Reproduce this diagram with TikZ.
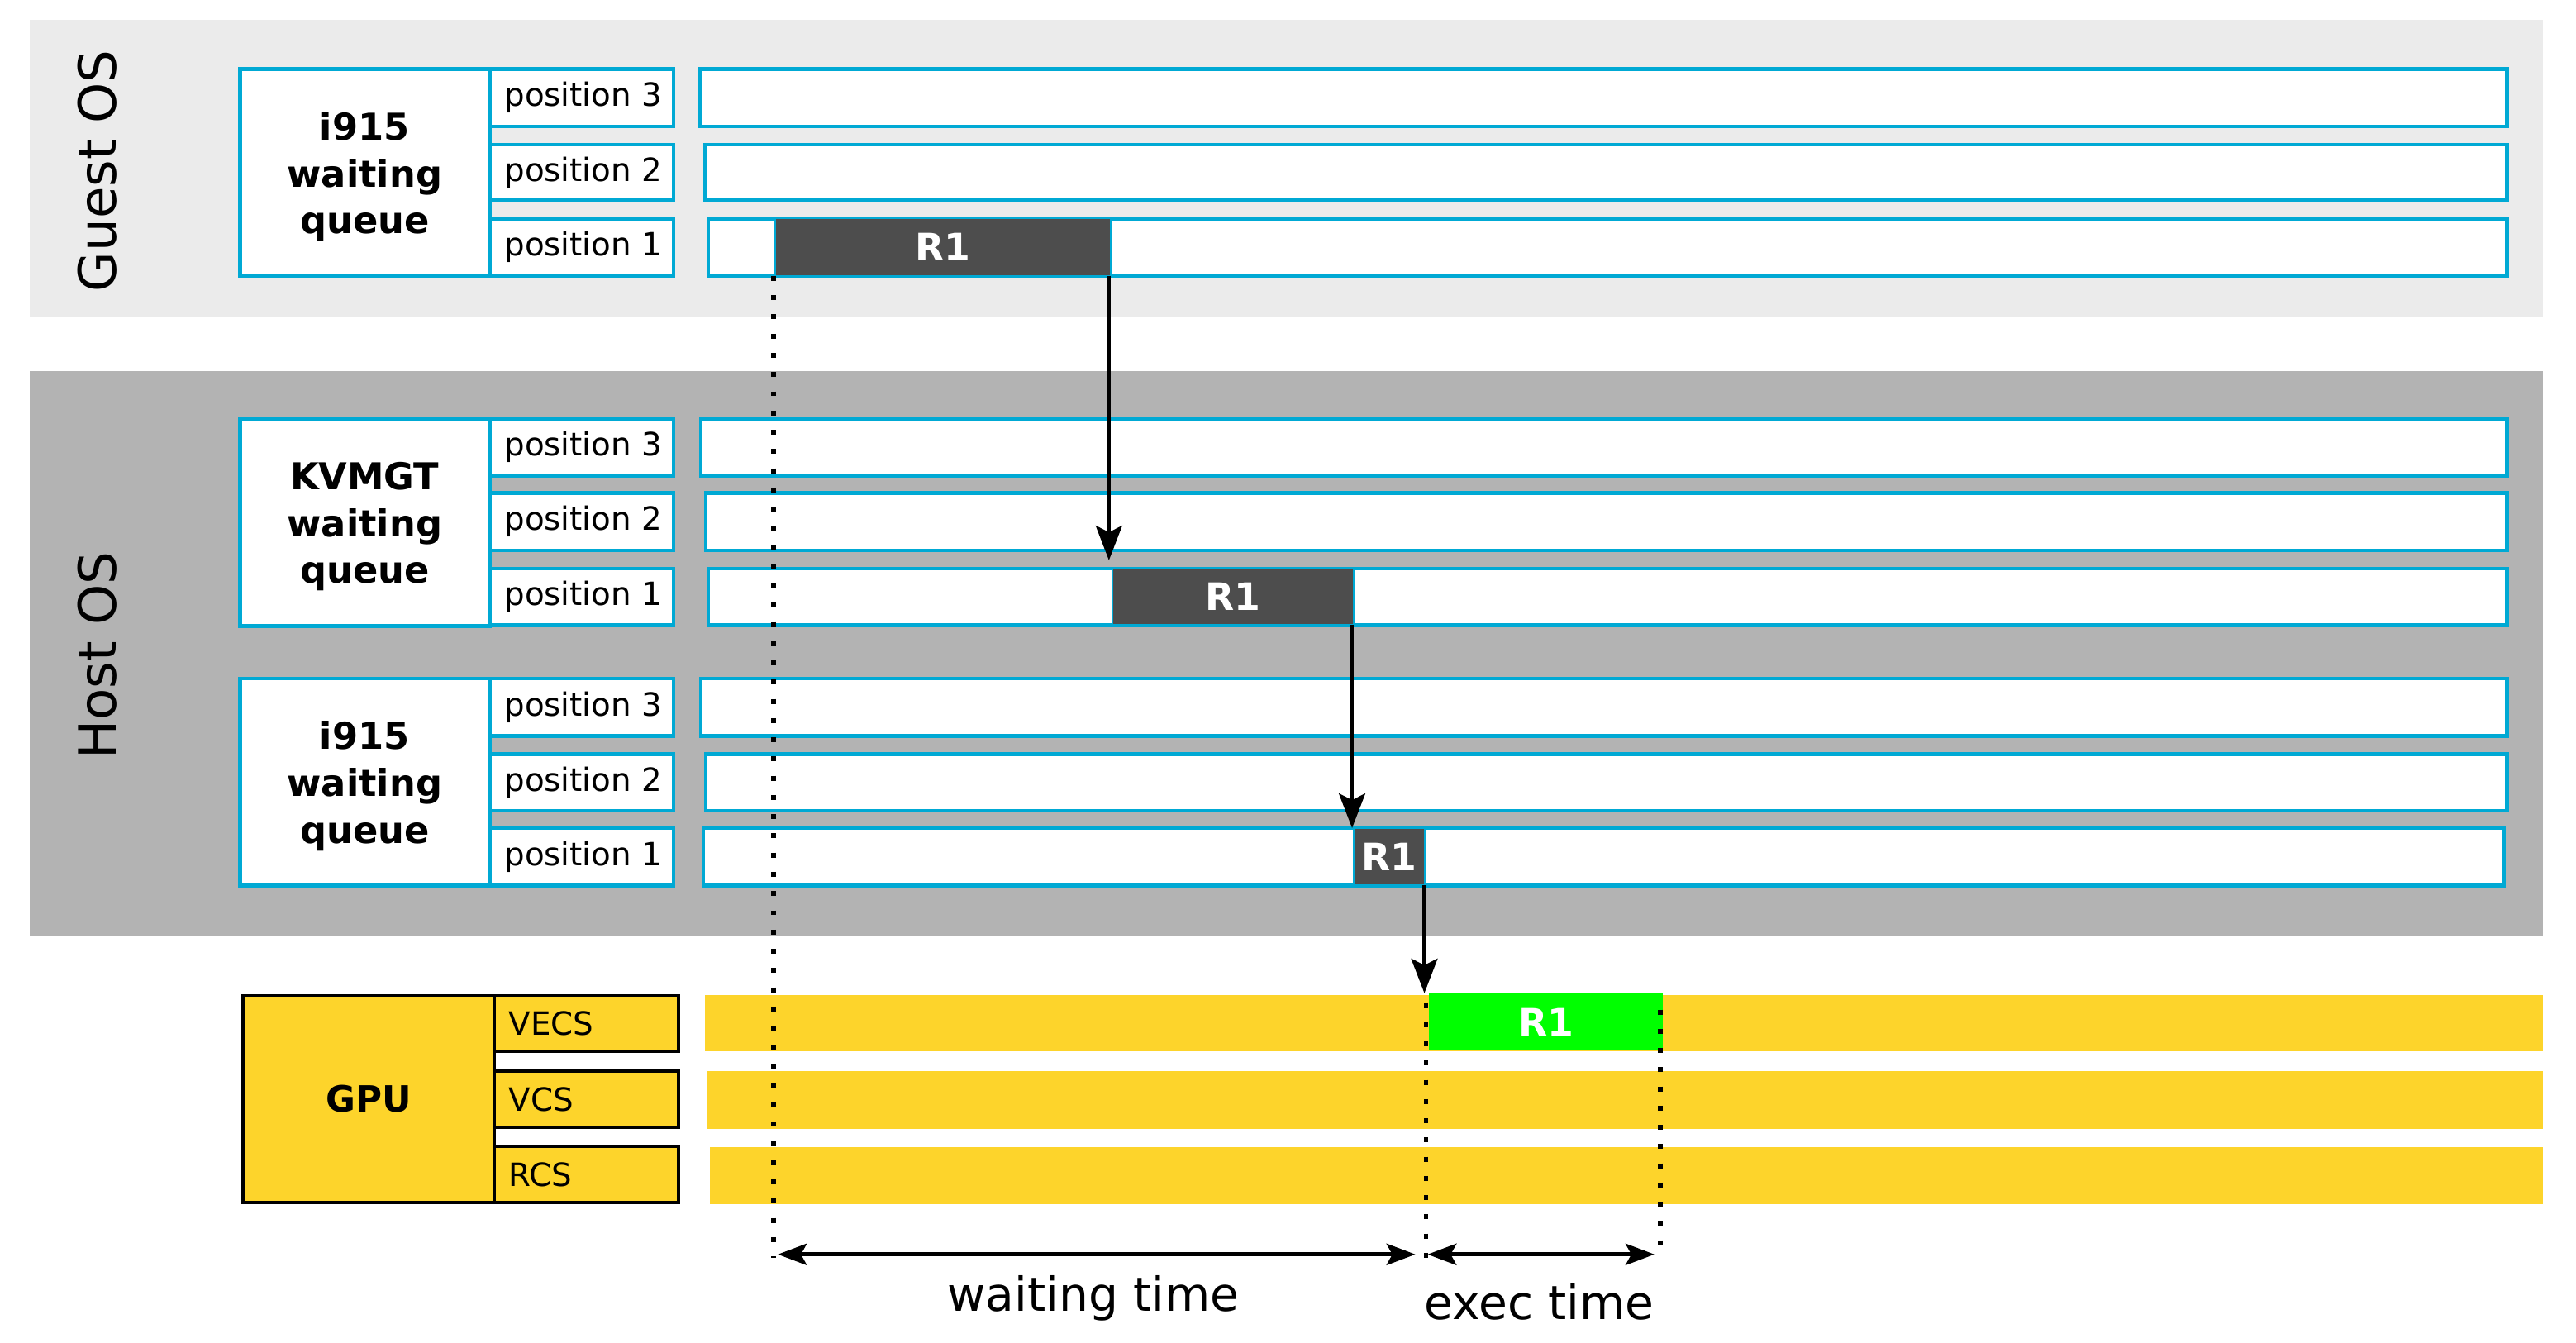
\documentclass[tikz,border=0pt]{standalone}
\usepackage{fontspec}
\setmainfont{DejaVu Sans}
\usetikzlibrary{fit,arrows.meta}
\definecolor{cyanc}{HTML}{00A9D4}
\definecolor{guestbg}{HTML}{EBEBEB}
\definecolor{hostbg}{HTML}{B3B3B3}
\definecolor{darkr}{HTML}{4D4D4D}
\definecolor{gpuy}{HTML}{FDD42B}
\definecolor{greenr}{HTML}{00FF00}
\begin{document}
\begin{tikzpicture}[x=1pt,y=-1pt,
  region/.style={inner sep=0pt, outer sep=0pt},
  oslabel/.style={rotate=90, font=\fontsize{31.5}{36}\selectfont},
  cbox/.style={draw=cyanc, line width=2.3pt, fill=white, inner sep=0pt, outer sep=0pt},
  qtext/.style={inner sep=0pt, yshift=-2.5pt, font=\fontsize{22.5}{28.5}\selectfont\bfseries, align=center},
  ptext/.style={inner sep=0pt, xshift=1pt, font=\fontsize{19.5}{23}\selectfont},
  rtext/.style={inner sep=0pt, text=white, font=\fontsize{23}{27}\selectfont\bfseries},
  reqbox/.style={draw=cyanc, line width=1pt, fill=darkr, inner sep=0pt, outer sep=0pt},
  gpubox/.style={draw=black, line width=1.8pt, fill=gpuy, inner sep=0pt, outer sep=0pt},
  gtext/.style={inner sep=0pt, font=\fontsize{22}{26}\selectfont\bfseries},
  englabel/.style={anchor=west, xshift=8.5pt, inner sep=0pt, font=\fontsize{19.5}{23}\selectfont},
  lane/.style={fill=gpuy, inner sep=0pt, outer sep=0pt},
  execbox/.style={fill=greenr, inner sep=0pt, outer sep=0pt},
  flow/.style={line width=2.3pt, -{Stealth[length=21pt, width=16pt, inset=4pt]}},
  dimarrow/.style={line width=2.5pt, {Stealth[length=17.5pt, width=13pt, inset=3.5pt]}-{Stealth[length=17.5pt, width=13pt, inset=3.5pt]}},
  dotline/.style={line width=3pt, dash pattern=on 3pt off 8.7pt},
  timelabel/.style={anchor=base, inner sep=0pt, font=\fontsize{28.5}{32}\selectfont}
]
\useasboundingbox (0,0) rectangle (1568,817.4);

% backgrounds
\node[region, fill=guestbg, fit={(18,12)(1548,193)}] (guest) {};
\node[region, fill=hostbg, fit={(18,226)(1548,570)}] (host) {};
\node[oslabel] (guestlbl) at (59,104) {Guest OS};
\node[oslabel] (hostlbl) at (59,399) {Host OS};

% Guest i915 queue
\node[cbox, fit={(146,42)(298,168)}, label={[qtext]center:i915\\waiting\\queue}] (gq) {};
\node[cbox, fit={(298,42)(410,77)}, label={[ptext]center:position 3}] (gp3) {};
\node[cbox, fit={(298,88)(410,122)}, label={[ptext]center:position 2}] (gp2) {};
\node[cbox, fit={(298,133)(410,168)}, label={[ptext]center:position 1}] (gp1) {};
\node[cbox, fit={(426,42)(1526,77)}] (gr3) {};
\node[cbox, fit={(429,88)(1526,122)}] (gr2) {};
\node[cbox, fit={(431,133)(1526,168)}] (gr1) {};
\node[reqbox, fit={(472,133)(676,168)}, label={[rtext]center:R1}] (gR1) {};

% Host KVMGT queue
\node[cbox, fit={(146,255)(298,381)}, label={[qtext]center:KVMGT\\waiting\\queue}] (kq) {};
\node[cbox, fit={(298,255)(410,289.5)}, label={[ptext]center:position 3}] (kp3) {};
\node[cbox, fit={(298,300)(410,335)}, label={[ptext]center:position 2}] (kp2) {};
\node[cbox, fit={(298,346)(410,380.5)}, label={[ptext]center:position 1}] (kp1) {};
\node[cbox, fit={(426.5,255)(1526,289.5)}] (kr3) {};
\node[cbox, fit={(429.5,300)(1526,335)}] (kr2) {};
\node[cbox, fit={(431,346)(1526,380.5)}] (kr1) {};
\node[reqbox, fit={(677,346)(824,380.5)}, label={[rtext]center:R1}] (kR1) {};

% Host i915 queue
\node[cbox, fit={(146,413)(298,539)}, label={[qtext]center:i915\\waiting\\queue}] (hq) {};
\node[cbox, fit={(298,413)(410,448)}, label={[ptext]center:position 3}] (hp3) {};
\node[cbox, fit={(298,459)(410,493.5)}, label={[ptext]center:position 2}] (hp2) {};
\node[cbox, fit={(298,504)(410,539)}, label={[ptext]center:position 1}] (hp1) {};
\node[cbox, fit={(426.5,413)(1526,448)}] (hr3) {};
\node[cbox, fit={(429.5,459)(1526,493.5)}] (hr2) {};
\node[cbox, fit={(428,504)(1524,539)}] (hr1) {};
\node[reqbox, fit={(824,504)(867,539)}, label={[rtext]center:R1}] (hR1) {};

% GPU
\node[gpubox, fit={(148,606)(301,732)}, label={[gtext]center:GPU}] (gpu) {};
\node[gpubox, fit={(301,606)(413,640)}, label={[englabel]west:VECS}] (vecs) {};
\node[gpubox, fit={(301,652)(413,686)}, label={[englabel]west:VCS}] (vcs) {};
\node[gpubox, fit={(301,698)(413,732)}, label={[englabel]west:RCS}] (rcs) {};
\node[lane, fit={(429,605.5)(1548,640)}] (lvecs) {};
\node[lane, fit={(430,652)(1548,687)}] (lvcs) {};
\node[lane, fit={(432,698)(1548,733)}] (lrcs) {};
\node[execbox, fit={(870,604.5)(1012,639.5)}, label={[rtext]center:R1}] (gR) {};

% flow arrows
\draw[flow, shorten >=5pt] ([xshift=-1pt]gR1.south east) -- ([xshift=-1pt]gR1.south east |- kR1.north);
\draw[flow] ([xshift=-1pt]kR1.south east) -- ([xshift=-1pt]kR1.south east |- hR1.north);
\draw[flow] (hR1.south east) -- (hR1.south east |- gR.north);

% time markers
\coordinate (wa) at (471,763.5);
\coordinate (wb) at (868,763.5);
\coordinate (wc) at (1010.5,763.5);
\draw[dotline] ([xshift=-1pt]gR1.south west) -- ([yshift=-2pt]wa);
\draw[dotline] ([xshift=-2pt,yshift=-6pt]gR.north west) -- ([yshift=-2pt]wb);
\draw[dotline] ([xshift=-1.5pt,yshift=-10pt]gR.north east) -- ([yshift=-3pt]wc);
\draw[dimarrow, shorten <=2.5pt, shorten >=6.5pt] (wa) -- (wb);
\draw[dimarrow, shorten <=1pt, shorten >=3.5pt] (wb) -- (wc);
\node[timelabel] (wtime) at (665.5,798) {waiting time};
\node[timelabel] (etime) at (937,803) {exec time};
\end{tikzpicture}
\end{document}
